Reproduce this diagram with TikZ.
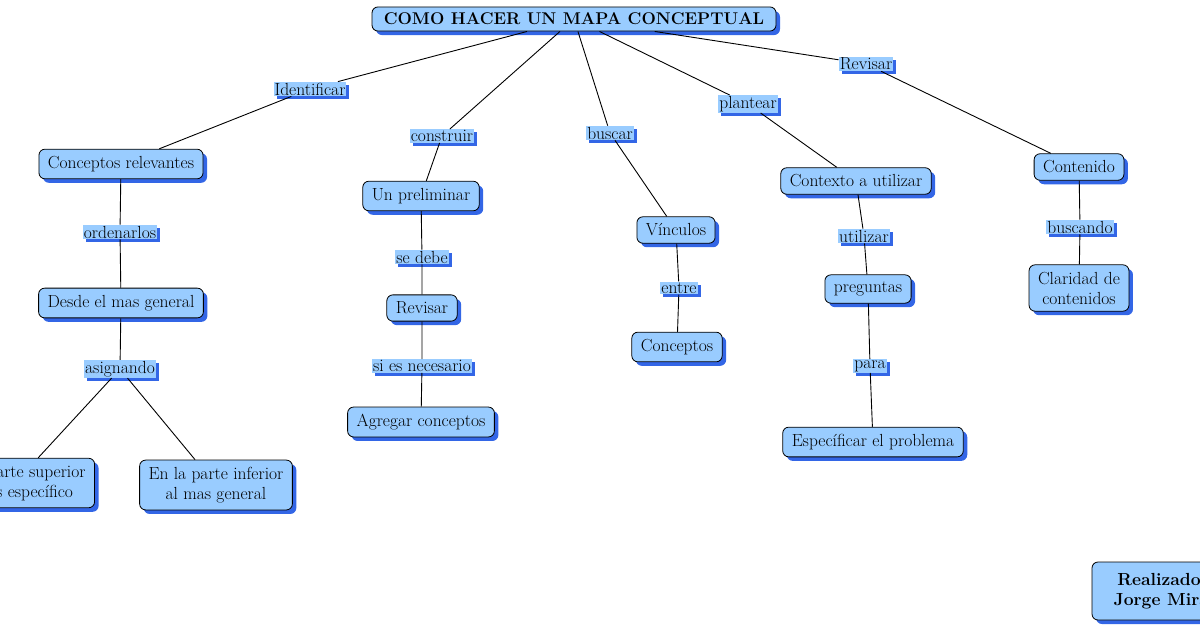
\documentclass[tikz,border=0pt]{standalone}
\usetikzlibrary{shadows}
\definecolor{nb}{HTML}{99CCFF}
\definecolor{sh}{HTML}{3366E6}
\begin{document}
\begin{tikzpicture}[x=1pt,y=-1pt,
  every node/.style={font=\fontsize{17.5}{20}\selectfont},
  c/.style={draw,thick,fill=nb,rounded corners=6pt,inner xsep=9pt,inner ysep=7pt,align=center,
    drop shadow={shadow xshift=4pt,shadow yshift=-4pt,fill=sh,opacity=1}},
  l/.style={fill=nb,inner xsep=1pt,inner ysep=1pt,
    drop shadow={shadow xshift=3pt,shadow yshift=-3pt,fill=sh,opacity=1}},
  e/.style={line width=0.9pt}]
\useasboundingbox (0,0) rectangle (1200,630);
\clip (0,0) rectangle (1200,630);
\node[c,font=\fontsize{17}{19}\selectfont\bfseries,minimum width=404pt,inner ysep=6pt] (t) at (574,19) {COMO HACER UN MAPA CONCEPTUAL};
\node[l] (l1) at (310,89) {Identificar};
\node[c] (cr) at (121,164) {Conceptos relevantes};
\node[l] (l2) at (120,232) {ordenarlos};
\node[c] (dg) at (121,303) {Desde el mas general};
\node[l] (l3) at (120,369) {asignando};
\node[c] (ps) at (15,483) {En la parte superior\\al mas específico};
\node[c] (pi) at (216,485) {En la parte inferior\\al mas general};
\node[l] (l4) at (442,136) {construir};
\node[c] (up) at (421,196) {Un preliminar};
\node[l] (l5) at (422,257) {se debe};
\node[c] (rv) at (422,308) {Revisar};
\node[l] (l6) at (422,366) {si es necesario};
\node[c] (ag) at (421,422) {Agregar conceptos};
\node[l] (l7) at (610,133) {buscar};
\node[c] (vi) at (676,230) {Vínculos};
\node[l] (l8) at (679,288) {entre};
\node[c] (co) at (677,347) {Conceptos};
\node[l] (l9) at (748,104) {plantear};
\node[c] (cu) at (856,181) {Contexto a utilizar};
\node[l] (l10) at (864,236) {utilizar};
\node[c] (pr) at (868,289) {preguntas};
\node[l] (l11) at (870,366) {para};
\node[c] (ep) at (873,442) {Específicar el problema};
\node[l] (l12) at (866,64) {Revisar};
\node[c] (ct) at (1079,167) {Contenido};
\node[l] (l13) at (1080,227) {buscando};
\node[c] (cl) at (1079,288) {Claridad de\\contenidos};
\node[c,font=\fontsize{17.5}{20}\selectfont\bfseries,minimum width=170pt,minimum height=58pt] (rz) at (1177,591) {Realizado por\\Jorge Miranda};
\draw[e] (t) -- (l1) -- (cr);
\draw[e] (cr) -- (l2) -- (dg) -- (l3);
\draw[e] (l3) -- (ps); \draw[e] (l3) -- (pi);
\draw[e] (t) -- (l4) -- (up) -- (l5) -- (rv) -- (l6) -- (ag);
\draw[e] (t) -- (l7) -- (vi) -- (l8) -- (co);
\draw[e] (t) -- (l9) -- (cu) -- (l10) -- (pr) -- (l11) -- (ep);
\draw[e] (t) -- (l12) -- (ct) -- (l13) -- (cl);
\end{tikzpicture}
\end{document}
